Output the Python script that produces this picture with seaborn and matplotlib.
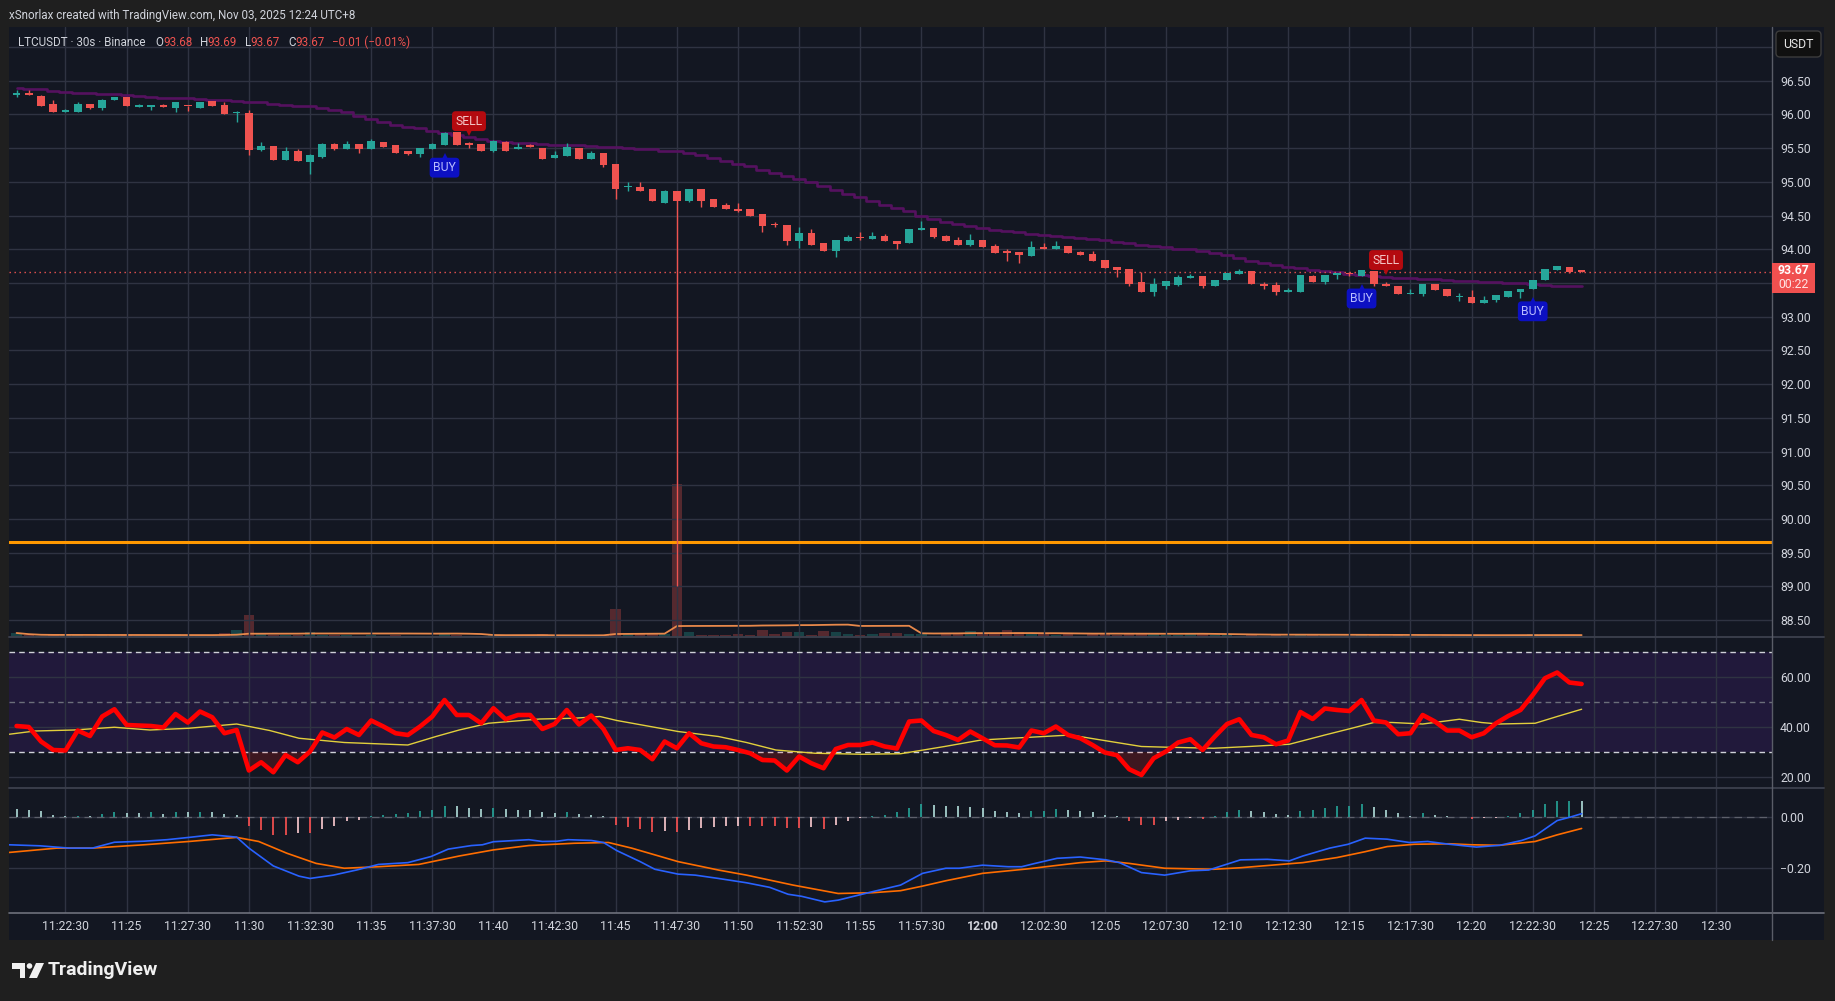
import numpy as np
import pandas as pd
import matplotlib
matplotlib.use("Agg")
import matplotlib.pyplot as plt
import seaborn as sns
from matplotlib.patches import Rectangle, FancyBboxPatch, Polygon, Circle
from matplotlib.lines import Line2D
from matplotlib.transforms import IdentityTransform

# ---------------- data (30s candles, index 0 = 11:20:30) ----------------
opens = [96.29, 96.30, 96.27, 96.16, 96.04, 96.04, 96.16, 96.10, 96.22, 96.26,
         96.11, 96.11, 96.12, 96.10, 96.13, 96.10, 96.20, 96.14, 96.02, 96.02,
         95.47, 95.53, 95.33, 95.46, 95.30, 95.37, 95.56, 95.49, 95.56, 95.49,
         95.59, 95.55, 95.46, 95.42, 95.49, 95.55, 95.74, 95.56, 95.56, 95.45,
         95.59, 95.48, 95.53, 95.50, 95.36, 95.39, 95.50, 95.34, 95.43, 95.27,
         94.92, 94.93, 94.89, 94.69, 94.86, 94.72, 94.89, 94.74, 94.65, 94.60,
         94.59, 94.53, 94.37, 94.36, 94.12, 94.24, 94.09, 93.97, 94.12, 94.17,
         94.15, 94.20, 94.12, 94.09, 94.29, 94.32, 94.20, 94.14, 94.06, 94.14,
         94.05, 93.96, 93.96, 93.90, 94.03, 94.00, 94.05, 93.96, 93.93, 93.84,
         93.74, 93.71, 93.51, 93.36, 93.45, 93.47, 93.58, 93.60, 93.46, 93.54,
         93.63, 93.68, 93.49, 93.47, 93.36, 93.37, 93.60, 93.51, 93.62, 93.64,
         93.60, 93.68, 93.49, 93.46, 93.33, 93.33, 93.49, 93.41, 93.29, 93.29,
         93.21, 93.25, 93.29, 93.36, 93.41, 93.54, 93.69, 93.74, 93.68]
highs = [96.36, 96.36, 96.29, 96.21, 96.08, 96.18, 96.16, 96.23, 96.26, 96.26,
         96.16, 96.13, 96.15, 96.18, 96.13, 96.18, 96.20, 96.18, 96.05, 96.07,
         95.59, 95.53, 95.51, 95.48, 95.41, 95.57, 95.58, 95.61, 95.56, 95.64,
         95.59, 95.55, 95.46, 95.50, 95.57, 95.74, 95.74, 95.59, 95.56, 95.62,
         95.61, 95.57, 95.56, 95.50, 95.46, 95.57, 95.50, 95.45, 95.43, 95.27,
         95.00, 95.00, 94.89, 94.88, 94.87, 94.90, 94.89, 94.74, 94.68, 94.68,
         94.59, 94.53, 94.41, 94.36, 94.33, 94.30, 94.09, 94.14, 94.21, 94.26,
         94.26, 94.22, 94.12, 94.30, 94.42, 94.32, 94.21, 94.18, 94.22, 94.14,
         94.08, 94.00, 93.96, 94.12, 94.10, 94.12, 94.05, 93.98, 93.97, 93.84,
         93.74, 93.71, 93.67, 93.57, 93.53, 93.62, 93.64, 93.60, 93.54, 93.65,
         93.71, 93.68, 93.51, 93.51, 93.43, 93.62, 93.62, 93.62, 93.65, 93.66,
         93.69, 93.68, 93.51, 93.46, 93.41, 93.49, 93.49, 93.41, 93.35, 93.39,
         93.30, 93.32, 93.38, 93.41, 93.54, 93.71, 93.75, 93.74, 93.69]
lows = [96.26, 96.29, 96.13, 96.04, 96.03, 96.04, 96.08, 96.07, 96.22, 96.13,
        96.11, 96.06, 96.11, 96.04, 96.05, 96.10, 96.12, 96.01, 95.89, 95.40,
        95.46, 95.33, 95.32, 95.31, 95.11, 95.35, 95.47, 95.49, 95.43, 95.49,
        95.52, 95.43, 95.40, 95.37, 95.48, 95.55, 95.55, 95.50, 95.45, 95.44,
        95.45, 95.48, 95.51, 95.34, 95.36, 95.39, 95.34, 95.34, 95.22, 94.74,
        94.86, 94.87, 94.71, 94.69, 89.01, 94.70, 94.63, 94.63, 94.60, 94.55,
        94.50, 94.25, 94.33, 94.07, 94.02, 94.06, 93.97, 93.88, 94.12, 94.13,
        94.15, 94.12, 94.00, 94.09, 94.29, 94.17, 94.12, 94.06, 94.05, 94.03,
        93.95, 93.83, 93.80, 93.90, 94.00, 94.00, 93.94, 93.91, 93.82, 93.72,
        93.59, 93.45, 93.36, 93.30, 93.41, 93.45, 93.58, 93.42, 93.46, 93.54,
        93.63, 93.49, 93.41, 93.32, 93.36, 93.37, 93.51, 93.49, 93.56, 93.60,
        93.60, 93.46, 93.46, 93.33, 93.33, 93.30, 93.40, 93.30, 93.23, 93.21,
        93.21, 93.22, 93.29, 93.28, 93.41, 93.54, 93.69, 93.65, 93.67]
closes = [96.30, 96.29, 96.13, 96.04, 96.05, 96.16, 96.10, 96.21, 96.26, 96.13,
          96.12, 96.12, 96.11, 96.18, 96.12, 96.18, 96.13, 96.01, 96.04, 95.47,
          95.53, 95.33, 95.46, 95.31, 95.40, 95.56, 95.48, 95.56, 95.48, 95.61,
          95.52, 95.43, 95.42, 95.50, 95.56, 95.73, 95.55, 95.55, 95.46, 95.61,
          95.46, 95.52, 95.52, 95.34, 95.40, 95.52, 95.34, 95.43, 95.25, 94.90,
          94.93, 94.87, 94.71, 94.87, 94.72, 94.89, 94.72, 94.63, 94.60, 94.56,
          94.50, 94.35, 94.36, 94.12, 94.24, 94.06, 93.97, 94.14, 94.18, 94.16,
          94.20, 94.12, 94.08, 94.30, 94.30, 94.18, 94.12, 94.06, 94.14, 94.03,
          93.95, 93.95, 93.92, 94.03, 94.00, 94.05, 93.95, 93.92, 93.83, 93.72,
          93.69, 93.48, 93.36, 93.48, 93.53, 93.59, 93.60, 93.46, 93.54, 93.65,
          93.68, 93.49, 93.46, 93.36, 93.40, 93.62, 93.51, 93.62, 93.63, 93.63,
          93.69, 93.49, 93.46, 93.33, 93.34, 93.49, 93.40, 93.30, 93.30, 93.21,
          93.25, 93.32, 93.38, 93.41, 93.54, 93.71, 93.75, 93.66, 93.67]
ma_line = [96.39, 96.38, 96.37, 96.35, 96.33, 96.32, 96.31, 96.30, 96.30, 96.29,
           96.28, 96.26, 96.25, 96.25, 96.24, 96.23, 96.22, 96.21, 96.20, 96.19,
           96.18, 96.16, 96.14, 96.13, 96.12, 96.10, 96.07, 96.04, 95.98, 95.93,
           95.89, 95.85, 95.82, 95.80, 95.76, 95.73, 95.69, 95.66, 95.64, 95.61,
           95.59, 95.58, 95.57, 95.56, 95.55, 95.55, 95.54, 95.53, 95.52, 95.51,
           95.50, 95.49, 95.48, 95.46, 95.45, 95.43, 95.40, 95.36, 95.31, 95.27,
           95.23, 95.18, 95.13, 95.09, 95.04, 95.00, 94.94, 94.88, 94.82, 94.77,
           94.72, 94.66, 94.61, 94.56, 94.50, 94.45, 94.41, 94.38, 94.35, 94.32,
           94.29, 94.27, 94.25, 94.23, 94.21, 94.20, 94.18, 94.16, 94.15, 94.13,
           94.11, 94.09, 94.07, 94.05, 94.03, 94.01, 94.00, 93.98, 93.95, 93.91,
           93.87, 93.83, 93.79, 93.76, 93.74, 93.72, 93.69, 93.68, 93.66, 93.64,
           93.62, 93.60, 93.59, 93.58, 93.57, 93.56, 93.56, 93.54, 93.53, 93.53,
           93.52, 93.51, 93.50, 93.50, 93.49, 93.47, 93.46, 93.46, 93.45]
volume = [400, 170, 100, 170, 200, 200, 130, 200, 200, 200,
          150, 150, 150, 330, 150, 150, 200, 400, 730, 2200,
          400, 200, 200, 200, 500, 200, 200, 200, 100, 200,
          100, 200, 100, 130, 130, 270, 200, 100, 130, 200,
          130, 200, 200, 330, 130, 130, 130, 200, 200, 2800,
          330, 270, 330, 270, 15300, 500, 200, 200, 200, 330,
          200, 730, 330, 530, 530, 200, 600, 530, 330, 200,
          330, 400, 400, 330, 330, 130, 270, 330, 600, 400,
          400, 730, 470, 330, 270, 200, 270, 150, 270, 270,
          200, 330, 270, 270, 200, 200, 400, 270, 200, 200,
          150, 270, 150, 200, 150, 270, 200, 200, 150, 150,
          200, 270, 150, 200, 150, 200, 150, 200, 150, 200,
          150, 200, 200, 200, 270, 270, 200, 200, 100]
rsi = [40.5, 40.1, 34.3, 30.9, 30.7, 38.7, 36.5, 44.3, 47.2, 40.9,
       40.7, 40.5, 39.9, 45.3, 41.9, 46.3, 44.0, 37.6, 38.9, 22.7,
       26.0, 22.0, 28.9, 26.0, 30.3, 37.9, 35.9, 39.3, 36.9, 42.7,
       40.3, 37.6, 36.9, 40.3, 44.3, 50.9, 44.9, 44.9, 41.6, 47.6,
       43.2, 44.9, 44.9, 39.3, 41.3, 46.9, 41.1, 44.7, 39.3, 30.9,
       31.6, 30.9, 27.2, 34.3, 31.6, 37.6, 33.6, 32.3, 32.0, 30.9,
       29.6, 26.9, 26.7, 22.7, 28.3, 25.6, 23.6, 31.3, 32.9, 32.9,
       33.9, 32.3, 31.5, 42.3, 42.7, 38.5, 36.9, 34.9, 38.3, 35.6,
       32.8, 32.7, 31.9, 38.7, 37.6, 40.3, 36.9, 35.6, 32.9, 29.9,
       28.8, 23.2, 20.9, 27.6, 30.3, 33.9, 35.2, 30.9, 36.3, 41.3,
       43.2, 36.9, 36.0, 33.2, 34.7, 46.1, 43.3, 47.5, 46.9, 46.5,
       50.9, 42.7, 41.9, 37.2, 37.6, 44.9, 42.3, 38.7, 38.7, 36.0,
       37.6, 41.6, 44.5, 46.9, 52.9, 59.6, 61.9, 57.9, 57.3]
rsi_ma_x = [-0.6, 1.5, 4.7, 8, 10.9, 14.1, 18, 20.7, 23.1, 26.8, 32, 34.3, 36.2, 38.6,
            42.8, 45.6, 47.7, 49.1, 54.1, 57.4, 59.7, 62.1, 65.3, 69.1, 72.3, 75.9,
            78.9, 81.4, 84, 86.2, 88.7, 92, 94.2, 97.9, 100.8, 104.1, 107, 109.2,
            111, 112.5, 115, 118, 119.8, 121.2, 124.2, 126, 128]
rsi_ma_y = [37.2, 38.5, 38.9, 40.0, 38.9, 39.6, 41.3, 38.7, 35.6, 33.9, 32.9, 36.3,
            38.9, 41.6, 43.3, 43.6, 44.3, 42.7, 38.3, 36.3, 33.9, 30.9, 29.6, 29.2,
            29.4, 32.3, 34.9, 35.6, 36.3, 36.9, 34.9, 32.3, 32.0, 31.6, 32.3, 33.2,
            36.9, 39.6, 41.9, 41.9, 41.3, 43.2, 41.9, 41.3, 41.6, 44.3, 47.2]
macd_x = [-0.6, 1.9, 4.3, 6.2, 8, 10.4, 12.3, 14.1, 16, 18, 19, 21, 23.1, 24, 25.9,
          27.8, 29.6, 32, 33.9, 35.3, 37.2, 38.1, 39, 41.9, 43, 44.2, 45.1, 47, 48,
          49.1, 51, 52.2, 54.1, 55.5, 57.4, 59.7, 61.6, 63.1, 64.2, 66.1, 67.2, 70,
          72.3, 74.1, 76, 77.1, 79, 81.1, 82.2, 83.3, 85.1, 87, 89.1, 90.2, 92, 93.9,
          96, 97.5, 100.1, 102.3, 104.1, 105.2, 107.4, 108.9, 110.3, 112.1, 113.9,
          115.4, 117.2, 119.4, 121.3, 123.1, 124.2, 126, 127.1, 128]
macd_y = [-0.109, -0.113, -0.122, -0.122, -0.099, -0.095, -0.089, -0.080, -0.070,
          -0.079, -0.122, -0.192, -0.232, -0.241, -0.228, -0.208, -0.186, -0.179,
          -0.155, -0.126, -0.112, -0.109, -0.097, -0.089, -0.096, -0.095, -0.089,
          -0.092, -0.100, -0.132, -0.175, -0.205, -0.224, -0.228, -0.241, -0.258,
          -0.276, -0.303, -0.311, -0.333, -0.326, -0.293, -0.267, -0.221, -0.201,
          -0.201, -0.189, -0.195, -0.195, -0.182, -0.162, -0.157, -0.168, -0.179,
          -0.218, -0.228, -0.211, -0.208, -0.168, -0.166, -0.172, -0.153, -0.122,
          -0.107, -0.083, -0.087, -0.100, -0.096, -0.107, -0.118, -0.111, -0.092,
          -0.074, -0.014, 0.000, 0.013]
signal_x = [-0.6, 3.3, 6.2, 10.4, 14.1, 18, 19.8, 22.1, 24.5, 26.8, 29.6, 32.9, 36.2,
            39, 41.9, 45.6, 48.4, 50.3, 54.1, 57.4, 59.7, 63.5, 67.2, 70, 72.3, 74.1,
            76, 79, 82.6, 84.7, 87, 89.1, 91, 93.9, 97.9, 100.1, 103.4, 105.2, 108,
            110.3, 112.1, 114.3, 117.2, 119, 121.3, 124.2, 126, 128]
signal_y = [-0.139, -0.122, -0.122, -0.109, -0.096, -0.080, -0.096, -0.142, -0.182,
            -0.201, -0.195, -0.186, -0.153, -0.129, -0.112, -0.103, -0.100, -0.122,
            -0.175, -0.208, -0.228, -0.267, -0.300, -0.297, -0.289, -0.271, -0.250,
            -0.221, -0.204, -0.192, -0.179, -0.172, -0.182, -0.201, -0.205, -0.199,
            -0.186, -0.179, -0.159, -0.136, -0.116, -0.107, -0.105, -0.109, -0.111,
            -0.096, -0.070, -0.045]
hist = [0.033, 0.029, 0.022, 0.009, 0.002, 0.005, 0.003, 0.012, 0.021, 0.016,
        0.016, 0.018, 0.013, 0.020, 0.020, 0.021, 0.021, 0.013, 0.009, -0.036,
        -0.050, -0.070, -0.072, -0.063, -0.063, -0.047, -0.034, -0.017, -0.011, 0.005,
        0.009, 0.012, 0.014, 0.022, 0.029, 0.045, 0.042, 0.037, 0.033, 0.036,
        0.033, 0.029, 0.029, 0.018, 0.016, 0.018, 0.013, 0.009, 0.003, -0.030,
        -0.041, -0.047, -0.059, -0.054, -0.057, -0.050, -0.043, -0.041, -0.037, -0.034,
        -0.037, -0.037, -0.037, -0.043, -0.043, -0.041, -0.046, -0.030, -0.017, -0.004,
        0.005, 0.009, 0.020, 0.036, 0.049, 0.046, 0.045, 0.042, 0.039, 0.036,
        0.025, 0.020, 0.016, 0.022, 0.025, 0.032, 0.029, 0.025, 0.018, 0.009,
        0.003, -0.017, -0.033, -0.033, -0.017, -0.011, -0.004, -0.008, 0.005, 0.018,
        0.029, 0.025, 0.021, 0.013, 0.009, 0.025, 0.029, 0.036, 0.042, 0.045,
        0.049, 0.039, 0.029, 0.016, 0.005, 0.014, 0.009, 0.005, -0.001, -0.008,
        -0.005, -0.003, 0.005, 0.016, 0.029, 0.049, 0.061, 0.064, 0.062]
signals_buy_x = [35, 110, 124]
signals_buy_y = [95.21, 93.27, 93.08]
signals_sell_x = [37, 112]
signals_sell_y = [95.90, 93.84]
level_line = 89.66
last_price = 93.67
time_tick_pos = list(range(4, 140, 5))
time_tick_labels = ["11:22:30", "11:25", "11:27:30", "11:30", "11:32:30", "11:35", "11:37:30",
                    "11:40", "11:42:30", "11:45", "11:47:30", "11:50", "11:52:30", "11:55",
                    "11:57:30", "12:00", "12:02:30", "12:05", "12:07:30", "12:10", "12:12:30",
                    "12:15", "12:17:30", "12:20", "12:22:30", "12:25", "12:27:30", "12:30"]
price_ticks = [88.5, 89.0, 89.5, 90.0, 90.5, 91.0, 91.5, 92.0, 92.5, 93.0, 93.5,
               94.0, 94.5, 95.0, 95.5, 96.0, 96.5, 97.0]

# ---------------- style ----------------
sns.set_theme(style="dark")
plt.rcParams['font.family'] = ['Roboto', 'DejaVu Sans']
plt.rcParams['axes.unicode_minus'] = True

W, H = 1835, 1001
BG_OUT = "#1f1f1f"
BG = "#131722"
GRID = "#2f3342"
TXT = "#d1d4dc"
UP = "#26a69a"
DN = "#ef5350"
FS = 8.8
XL = (-0.62, 143.57)

fig = plt.figure(figsize=(W / 100, H / 100), dpi=100)
fig.patch.set_facecolor(BG_OUT)
ID = IdentityTransform()


def rect(x0, y0, x1, y1):
    return [x0 / W, 1 - y1 / H, (x1 - x0) / W, (y1 - y0) / H]


fig.add_artist(Rectangle((9, H - 940), 1824 - 9, 940 - 27, transform=ID,
                         facecolor=BG, edgecolor='none', zorder=-10))

idx = np.arange(len(closes))
o = np.array(opens); c = np.array(closes); hi = np.array(highs); lo = np.array(lows)
up = c >= o
cols = np.where(up, UP, DN)

# ---------------- volume (overlay) ----------------
ax_v = fig.add_axes(rect(9, 27, 1772, 637))
ax_v.set_zorder(0)
ax_v.set_facecolor('none')
vcol_list = [(38/255, 166/255, 154/255, 0.30) if u else (239/255, 83/255, 80/255, 0.30) for u in up]
ax_v.bar(idx, volume, width=0.86, color=vcol_list, linewidth=0)
vol_ma = pd.Series(volume, dtype=float).rolling(20, min_periods=1).mean()
sns.lineplot(x=idx, y=vol_ma.values, ax=ax_v, color="#e8884a", lw=1.3,
             estimator=None, sort=False)
ax_v.set_ylim(0, 61000)
ax_v.set_xlim(*XL)
ax_v.axis('off')

# ---------------- price ----------------
ax_p = fig.add_axes(rect(9, 27, 1772, 637))
ax_p.set_zorder(1)
ax_p.patch.set_visible(False)
ax_p.set_xlim(*XL)
ax_p.set_ylim(88.25, 97.296)
ax_p.set_xticks(time_tick_pos)
ax_p.set_xticklabels([])
ax_p.set_yticks(price_ticks)
ax_p.set_yticklabels([f"{v:.2f}" if v < 97 else "" for v in price_ticks])
ax_p.yaxis.tick_right()
ax_p.tick_params(axis='y', length=0, pad=5.8, labelsize=FS, labelcolor=TXT)
ax_p.tick_params(axis='x', length=0)
ax_p.grid(True, color=GRID, lw=1.0)
ax_p.set_axisbelow(True)
for s in ax_p.spines.values():
    s.set_visible(False)

ax_p.axhline(level_line, color="#ff9800", lw=2.2, zorder=2)
sns.lineplot(x=idx, y=ma_line, ax=ax_p, color="#55115f", lw=1.9,
             drawstyle='steps-mid', estimator=None, sort=False, zorder=2.2)
ax_p.axhline(last_price, color=DN, lw=1.0, ls=(0, (1, 2.6)), zorder=2.3)
ax_p.vlines(idx, lo, hi, colors=cols, lw=1.0, zorder=3)
body_b = np.minimum(o, c)
body_h = np.maximum(np.abs(c - o), 0.022)
ax_p.bar(idx, body_h, bottom=body_b, width=0.62, color=cols, linewidth=0, zorder=3.1)

for x, y in zip(signals_sell_x, signals_sell_y):
    ax_p.text(x, y, "SELL", ha='center', va='center', fontsize=8.8, color="#f3c7c7",
              zorder=5, bbox=dict(boxstyle="round,pad=0.28,rounding_size=0.3",
                                  fc="#b40a0f", ec="none"))
    ax_p.plot([x], [y - 0.17], marker='v', ms=5, color="#b40a0f", mew=0, zorder=4.9)
for x, y in zip(signals_buy_x, signals_buy_y):
    ax_p.text(x, y, "BUY", ha='center', va='center', fontsize=8.8, color="#b9bcff",
              zorder=5, bbox=dict(boxstyle="round,pad=0.28,rounding_size=0.3",
                                  fc="#0c10c2", ec="none"))
    ax_p.plot([x], [y + 0.17], marker='^', ms=5, color="#0c10c2", mew=0, zorder=4.9)

# ---------------- RSI ----------------
ax_r = fig.add_axes(rect(9, 637, 1772, 788))
ax_r.set_facecolor('none')
ax_r.set_xlim(*XL)
ax_r.set_ylim(15.7, 76.1)
ax_r.axhspan(30, 70, color="#21193b", zorder=0.1, lw=0)
ax_r.set_xticks(time_tick_pos)
ax_r.set_xticklabels([])
ax_r.set_yticks([20, 40, 60])
ax_r.set_yticklabels(["20.00", "40.00", "60.00"])
ax_r.yaxis.tick_right()
ax_r.tick_params(axis='y', length=0, pad=5.8, labelsize=FS, labelcolor=TXT)
ax_r.tick_params(axis='x', length=0)
ax_r.grid(True, color=GRID, lw=1.0, zorder=0.5)
ax_r.set_axisbelow(True)
for s in ax_r.spines.values():
    s.set_visible(False)
ax_r.axhline(70, color="#cfd1d8", lw=1.0, ls=(0, (4, 3)), zorder=1)
ax_r.axhline(30, color="#cfd1d8", lw=1.0, ls=(0, (4, 3)), zorder=1)
ax_r.axhline(50, color="#6b6e7a", lw=1.0, ls=(0, (4, 3)), zorder=1)
rsi_a = np.array(rsi)
ax_r.fill_between(idx, rsi_a, 30, where=rsi_a < 30, interpolate=True,
                  color="#ff1a1a", alpha=0.18, lw=0, zorder=1.5)
sns.lineplot(x=rsi_ma_x, y=rsi_ma_y, ax=ax_r, color="#e2cf3c", lw=1.0,
             estimator=None, sort=False, zorder=2)
sns.lineplot(x=idx, y=rsi, ax=ax_r, color="#ff0000", lw=3.3, estimator=None,
             sort=False, zorder=3, solid_joinstyle='round', solid_capstyle='round')

# ---------------- MACD ----------------
ax_m = fig.add_axes(rect(9, 788, 1772, 913))
ax_m.set_facecolor('none')
ax_m.set_xlim(*XL)
ax_m.set_ylim(-0.3765, 0.1137)
ax_m.set_yticks([-0.2, 0.0])
ax_m.set_yticklabels(["\u22120.20", "0.00"])
ax_m.yaxis.tick_right()
ax_m.tick_params(axis='y', length=0, pad=5.8, labelsize=FS, labelcolor=TXT)
ax_m.set_xticks(time_tick_pos)
ax_m.set_xticklabels(time_tick_labels)
ax_m.tick_params(axis='x', length=0, pad=5.0, labelsize=FS, labelcolor=TXT)
for lab in ax_m.get_xticklabels():
    if lab.get_text() == "12:00":
        lab.set_fontweight('bold')
ax_m.grid(True, color=GRID, lw=1.0)
ax_m.set_axisbelow(True)
for s in ax_m.spines.values():
    s.set_visible(False)
ax_m.axhline(0, color="#5d606b", lw=0.9, ls=(0, (6, 4)), zorder=0.8)
h = np.array(hist)
hcols = []
for i, v in enumerate(h):
    prev = h[i - 1] if i > 0 else v
    if v >= 0:
        hcols.append("#26a69a" if v > prev else "#b2dfdb")
    else:
        hcols.append("#ffcdd2" if v > prev else "#ff5252")
ax_m.vlines(idx, 0, h, colors=hcols, lw=1.2, zorder=1)
sns.lineplot(x=signal_x, y=signal_y, ax=ax_m, color="#ff6d00", lw=1.2,
             estimator=None, sort=False, zorder=2)
sns.lineplot(x=macd_x, y=macd_y, ax=ax_m, color="#2962ff", lw=1.2,
             estimator=None, sort=False, zorder=2.1)
for a in (ax_p, ax_r, ax_m):
    a.set_xlabel(""); a.set_ylabel("")

# ---------------- separators ----------------
def hline(y, x0, x1, color, lw=1.0):
    fig.add_artist(Line2D([x0, x1], [H - y, H - y], transform=ID, color=color, lw=lw, zorder=4))

def vline(x, y0, y1, color, lw=1.0):
    fig.add_artist(Line2D([x, x], [H - y0, H - y1], transform=ID, color=color, lw=lw, zorder=4))

hline(637, 9, 1824, "#3a3e4b", 1.4)
hline(788, 9, 1824, "#3a3e4b", 1.4)
hline(913, 9, 1824, "#6e717c", 1.2)
vline(1772, 27, 940, "#5a5d68", 1.0)

# ---------------- overlays ----------------
fig.text(9, H - 15, "xSnorlax created with TradingView.com, Nov 03, 2025 12:24 UTC+8",
         transform=ID, fontsize=8.4, color="#d1d4dc", va='center', ha='left')

leg_items = [(18, "LTCUSDT \u00b7 30s \u00b7 Binance", TXT), (155, "O", TXT), (163.5, "93.68", DN),
             (200, "H", TXT), (207, "93.69", DN), (244.5, "L", TXT), (250.5, "93.67", DN),
             (288, "C", TXT), (295, "93.67", DN), (332, "\u22120.01 (\u22120.01%)", DN)]
for x, s, col in leg_items:
    fig.text(x, H - 42, s, transform=ID, fontsize=8.4, color=col, va='center', ha='left', zorder=6)

fig.add_artist(FancyBboxPatch((1776, H - 57), 45, 26, boxstyle="round,pad=0,rounding_size=4",
                              transform=ID, facecolor="#101010", edgecolor="#3c3c3c", lw=1, zorder=6))
fig.text(1798.5, H - 44, "USDT", transform=ID, fontsize=FS, color="#e6e6e6",
         ha='center', va='center', zorder=7)

fig.add_artist(Rectangle((1772, H - 293), 43, 30, transform=ID, facecolor="#f0504f",
                         edgecolor='none', zorder=6))
fig.text(1793.5, H - 271, "93.67", transform=ID, fontsize=FS, color="white",
         fontweight='bold', ha='center', va='center', zorder=7)
fig.text(1793.5, H - 285, "00:22", transform=ID, fontsize=FS, color="#ffe3e3",
         ha='center', va='center', zorder=7)

# TradingView logo
fig.add_artist(Polygon([(12, H - 963), (25, H - 963), (25, H - 978), (19.5, H - 978),
                        (19.5, H - 968.5), (12, H - 968.5)], closed=True, transform=ID,
                       facecolor="#f0f0f0", edgecolor='none', zorder=6))
fig.add_artist(Circle((29.5, H - 966), 2.8, transform=ID, facecolor="#f0f0f0",
                      edgecolor='none', zorder=6))
fig.add_artist(Polygon([(36, H - 963), (44, H - 963), (37, H - 978), (29, H - 978)],
                       closed=True, transform=ID, facecolor="#f0f0f0", edgecolor='none', zorder=6))
fig.text(48, H - 970, "TradingView", transform=ID, fontsize=14.0, color="#f0f0f0",
         fontweight='bold', ha='left', va='center', zorder=6)

fig.savefig("out.png", dpi=100, facecolor=fig.get_facecolor())
